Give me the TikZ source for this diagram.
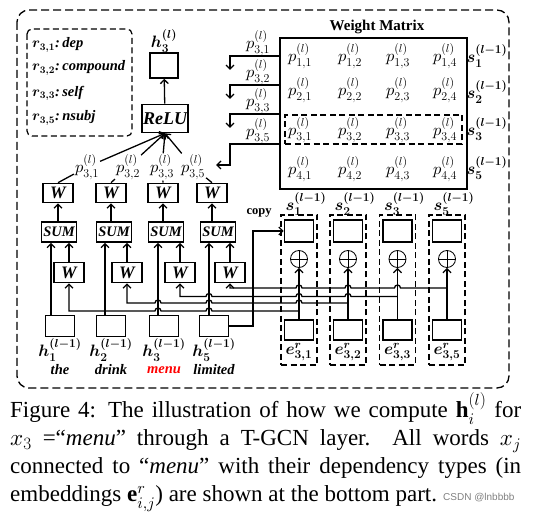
\documentclass[tikz,border=0pt]{standalone}
\usepackage{amsmath}
\usepackage{bm}
\usepackage{fontspec}
\setmainfont{Liberation Serif}
\newfontfamily\wmfont{Liberation Sans}
\DeclareFontShape{OML}{cmm}{m}{it}{<->cmmi10}{}
\DeclareFontShape{OML}{cmm}{b}{it}{<->cmmib10}{}
\DeclareFontShape{OMS}{cmsy}{m}{n}{<->cmsy10}{}
\DeclareFontShape{OMS}{cmsy}{b}{n}{<->cmbsy10}{}
\usetikzlibrary{arrows.meta, positioning}

\begin{document}
\begin{tikzpicture}[x=1pt, y=-1pt,
  box/.style={draw, line width=1.6pt, inner sep=0pt},
  wbox/.style={box, minimum width=30pt, minimum height=19pt,
               font=\fontsize{17.5}{17.5}\selectfont\bfseries\itshape},
  sumbox/.style={box, minimum width=35pt, minimum height=20pt,
                 font=\fontsize{14.5}{14.5}\selectfont\bfseries\itshape},
  vec/.style={box, minimum width=29pt, minimum height=21pt},
  dashbox/.style={draw, line width=1.2pt, dash pattern=on 6pt off 3.5pt},
  cell/.style={font=\fontsize{16.5}{16.5}\selectfont, inner sep=1pt},
  lab/.style={font=\fontsize{16.5}{16.5}\selectfont, inner sep=0pt},
  rel/.style={font=\fontsize{14.5}{14.5}\selectfont\bfseries\itshape, inner sep=0pt, anchor=west},
  word/.style={font=\fontsize{14.5}{14.5}\selectfont\bfseries\itshape, inner sep=0pt},
  conn/.style={line width=1.3pt},
  arr/.style={conn, -{Straight Barb[length=4pt, width=8pt]}},
  capline/.style={anchor=base west, inner sep=0pt, font=\fontsize{23}{28}\selectfont},
]
  \useasboundingbox (0,0) rectangle (542,521);

  % --- frames ---
  \draw[dashbox, line width=1.3pt, dash pattern=on 8pt off 4pt, rounded corners=12pt]
    (17,10) rectangle (509,388);
  \draw[dashbox, rounded corners=5pt] (27,29) rectangle (132,136);
  \foreach \i/\y/\txt in {1/45/{$\bm{r_{3,1}}$:\,dep}, 2/68/{$\bm{r_{3,2}}$:\,compound},
                          3/93/{$\bm{r_{3,3}}$:\,self}, 5/118/{$\bm{r_{3,5}}$:\,nsubj}}
    \node[rel] (r\i) at (32,\y) {\txt};

  % --- output and ReLU ---
  \node[vec, minimum width=28pt, minimum height=25pt] (hout) at (164,65.5) {};
  \node[lab] (houtlab) at (164,41) {$\bm{h_3^{(l)}}$};
  \node[box, minimum width=46pt, minimum height=28pt,
        font=\fontsize{18}{18}\selectfont\bfseries\itshape] (relu) at (165,118.5) {ReLU};
  \draw[arr] (relu) -- (hout);

  % --- word columns ---
  \foreach \j/\x in {1/58, 2/111, 3/163, 4/212}
    \node[wbox] (wt\j) at (\x,193) {W};
  \foreach \j/\x in {1/59, 2/114, 3/166, 4/218}
    \node[sumbox] (sum\j) at (\x,232) {SUM};
  \foreach \j/\x in {1/69, 2/127, 3/180, 4/230}
    \node[wbox, minimum height=20pt] (wi\j) at (\x,272.5) {W};
  \foreach \j/\x/\k/\txt in {1/60/1/the, 2/111/2/drink, 3/164/3/\textcolor{red}{menu}, 4/214/5/limited} {
    \node[vec] (h\j) at (\x,326) {};
    \node[lab] (hl\j) at (\x,350) {$\bm{h_\k^{(l-1)}}$};
    \node[word] (wd\j) at (\x,370) {\txt};
  }
  \foreach \j/\x in {1/51, 2/105, 3/158, 4/209}
    \coordinate (v\j) at (\x,0);

  \foreach \j in {1,...,4} {
    \draw[arr] (v\j |- h\j.north) -- (v\j |- sum\j.south);
    \draw[arr] (wi\j.north) -- (wi\j.north |- sum\j.south);
    \draw[arr] (sum\j.north -| wt\j) -- (wt\j.south);
  }

  % weights into ReLU
  \foreach \j/\x/\k in {1/87/1, 2/128/2, 3/162/3, 4/193/5} {
    \node[cell] (q\j) at (\x,167) {$p^{(l)}_{3,\k}$};
    \draw[arr] (wt\j.north) -- (q\j) -- (relu.south);
  }

  % --- weight matrix ---
  \node[box, minimum width=187pt, minimum height=151pt] (wmat) at (373.5,113.5) {};
  \node[font=\fontsize{15}{15}\selectfont\bfseries] (wtitle) at (377,27) {Weight Matrix};
  \foreach \r/\y in {1/56, 2/90, 3/130, 4/169}
    \foreach \c/\x in {1/300, 2/350, 3/398, 4/445}
      \node[cell] (m\r\c) at (\x,\y) {$p^{(l)}_{\r,\c}$};
  \node[dashbox, minimum width=177pt, minimum height=29pt] (row3) at (373.5,129.5) {};
  \foreach \r/\y/\k in {1/56/1, 2/92/2, 3/129/3, 4/168/5}
    \node[lab] (sr\r) at (487,\y) {$\bm{s_\k^{(l-1)}}$};

  % row weights out of the matrix
  \coordinate (t1) at (230,56);
  \coordinate (t2) at (230,85);
  \coordinate (t3) at (230,114);
  \coordinate (t4) at (230,144);
  \coordinate (t5) at (230,165);
  \foreach \i/\y/\k in {1/43/1, 2/72/2, 3/101/3, 4/131/5}
    \node[cell] (pl\i) at (258,\y) {$p^{(l)}_{3,\k}$};
  \foreach \i in {1,2,3}
    \draw[arr] (wmat.west |- t\i) -- (t\i) -- ++(0,14);
  \draw[arr] (wmat.west |- t4) -- (t4) -- (t5) -- ([xshift=10pt]q4.east |- t5);

  % --- neighbour columns ---
  \foreach \j/\x/\k in {1/299/1, 2/348/2, 3/397.5/3, 4/447/5} {
    \node[dashbox, minimum width=36pt, minimum height=150pt] (col\j) at (\x,290) {};
    \node[vec, minimum height=22pt] (s\j) at (\x,231) {};
    \node[draw, circle, line width=0.8pt, minimum size=17pt, inner sep=0pt] (o\j) at (\x,259) {};
    \draw[line width=0.8pt] (o\j.north) -- (o\j.south) (o\j.west) -- (o\j.east);
    \node[vec, minimum height=20pt] (e\j) at (\x,330) {};
    \node[lab] (el\j) at (\x,352) {$\bm{e^r_{3,\k}}$};
    \node[lab] (sl\j) at (\x+7,204) {$\bm{s_\k^{(l-1)}}$};
    \draw[arr] (e\j.north) -- (o\j.south);
  }

  % copy
  \coordinate (cp) at (253,231);
  \draw[arr] (h4.east) -| (cp) -- (s1.west);
  \node[font=\fontsize{12.5}{12.5}\selectfont\bfseries] (copylab) at (259,213) {copy};

  % relation embeddings into W (with hops)
  \coordinate (lv1) at (0,311);
  \coordinate (lv2) at (0,303);
  \coordinate (lv3) at (0,296.5);
  \coordinate (lv4) at (0,288);
  \draw[arr] (e1 |- lv1) -- (212,311) arc[start angle=0, end angle=180, radius=3pt]
    -- (161,311) arc[start angle=0, end angle=180, radius=3pt]
    -- (wi1 |- lv1) -- (wi1.south);
  \draw[arr] (e2 |- lv2) -- (302,303) arc[start angle=0, end angle=180, radius=3pt]
    -- (212,303) arc[start angle=0, end angle=180, radius=3pt]
    -- (161,303) arc[start angle=0, end angle=180, radius=3pt]
    -- (wi2 |- lv2) -- (wi2.south);
  \draw[arr] (e3 |- lv3) -- (351,296.5) arc[start angle=0, end angle=180, radius=3pt]
    -- (302,296.5) arc[start angle=0, end angle=180, radius=3pt]
    -- (212,296.5) arc[start angle=0, end angle=180, radius=3pt]
    -- (wi3 |- lv3) -- (wi3.south);
  \draw[arr] (e4 |- lv4) -- (400.5,288) arc[start angle=0, end angle=180, radius=3pt]
    -- (351,288) arc[start angle=0, end angle=180, radius=3pt]
    -- (302,288) arc[start angle=0, end angle=180, radius=3pt]
    -- (wi4 |- lv4) -- (wi4.south);

  % --- caption ---
  \node[capline] (cap1) at (10,418)
    {\makebox[511pt][s]{Figure 4: The illustration of how we compute $\mathbf{h}_i^{(l)}$ for}};
  \node[capline] (cap2) at (10,446)
    {\makebox[511pt][s]{$x_3$ =“\textit{menu}” through a T-GCN layer.\ \ All words $x_j$}};
  \node[capline] (cap3) at (10,474)
    {\makebox[511pt][s]{connected to “\textit{menu}” with their dependency types (in}};
  \node[capline] (cap4) at (10,502)
    {embeddings $\mathbf{e}^r_{i,j}$) are shown at the bottom part.};
  \node[anchor=base west, inner sep=0pt, text=gray, font=\wmfont\fontsize{10}{10}\selectfont]
    (wm) at (443,501) {CSDN @lnbbbb};
\end{tikzpicture}
\end{document}
